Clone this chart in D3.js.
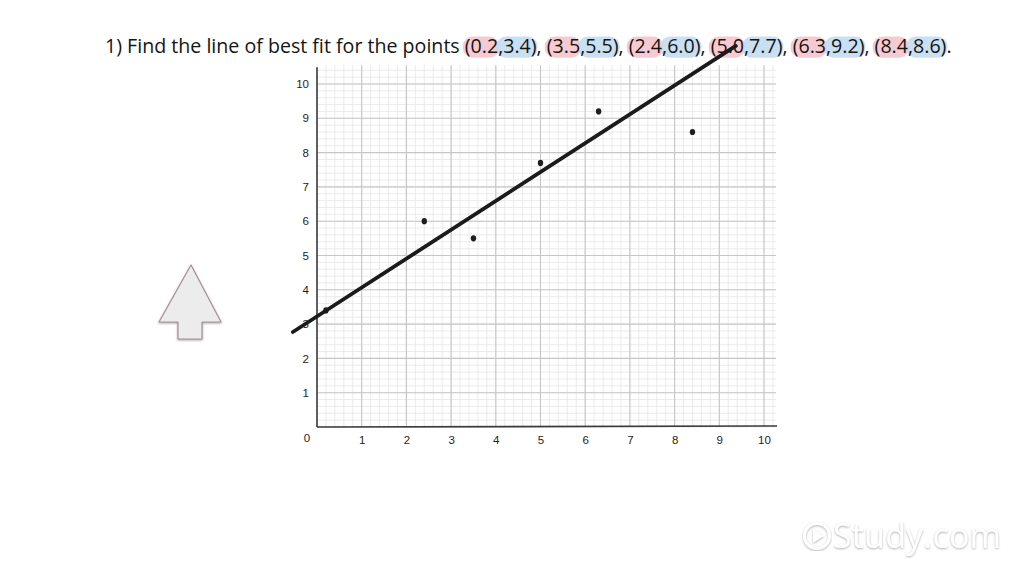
<!DOCTYPE html>
<html>
<head>
<meta charset="utf-8">
<script src="https://cdn.jsdelivr.net/npm/d3@7"></script>
<style>
  body { margin: 0; background: #fff; }
  svg { display: block; }
</style>
</head>
<body>
<svg id="chart" width="1024" height="576"></svg>
<script>
// points
const xVals = [0.2, 3.5, 2.4, 5.0, 6.3, 8.4];
const yVals = [3.4, 5.5, 6.0, 7.7, 9.2, 8.6];
const xLabels = ['0.2', '3.5', '2.4', '5.0', '6.3', '8.4'];
const yLabels = ['3.4', '5.5', '6.0', '7.7', '9.2', '8.6'];

// hand drawn fit line, its two ends
const fitX = [-0.54, 9.37];
const fitY = [2.77, 11.11];

const xTicks = [1, 2, 3, 4, 5, 6, 7, 8, 9, 10];
const yTicks = [1, 2, 3, 4, 5, 6, 7, 8, 9, 10];

const svg = d3.select('#chart');

// scales: grid origin at (317,427), unit ~44.7 px across, ~34.3 px up
const x = d3.scaleLinear().domain([0, 10]).range([317, 764]);
const y = d3.scaleLinear().domain([0, 10]).range([427, 84]);
const xMax = 10.27, yMax = 10.55;

// ---- graph paper ----
const grid = svg.append('g').attr('class', 'grid');
const minorX = d3.range(0, xMax, 0.2);
const minorY = d3.range(0, yMax, 0.2);

grid.selectAll('line.minor-v')
  .data(minorX)
  .enter().append('line')
  .attr('x1', d => x(d)).attr('x2', d => x(d))
  .attr('y1', y(0)).attr('y2', y(yMax))
  .attr('stroke', '#e6e6e6').attr('stroke-width', 0.8);

grid.selectAll('line.minor-h')
  .data(minorY)
  .enter().append('line')
  .attr('y1', d => y(d)).attr('y2', d => y(d))
  .attr('x1', x(0)).attr('x2', x(xMax))
  .attr('stroke', '#e6e6e6').attr('stroke-width', 0.8);

grid.selectAll('line.major-v')
  .data(xTicks)
  .enter().append('line')
  .attr('x1', d => x(d)).attr('x2', d => x(d))
  .attr('y1', y(0)).attr('y2', y(yMax))
  .attr('stroke', '#c6c6c6').attr('stroke-width', 1.1);

grid.selectAll('line.major-h')
  .data(yTicks)
  .enter().append('line')
  .attr('y1', d => y(d)).attr('y2', d => y(d))
  .attr('x1', x(0)).attr('x2', x(xMax))
  .attr('stroke', '#c6c6c6').attr('stroke-width', 1.1);

// ---- axes ----
const xAxis = d3.axisBottom(x).tickValues(xTicks).tickSize(0).tickPadding(9);
const yAxis = d3.axisLeft(y).tickValues(yTicks).tickSize(0).tickPadding(8);

const gx = svg.append('g').attr('transform', `translate(0,${y(0)})`).call(xAxis);
const gy = svg.append('g').attr('transform', `translate(${x(0)},0)`).call(yAxis);

[gx, gy].forEach(g => {
  g.select('.domain').remove();
  g.selectAll('text')
    .style('font-family', '"Liberation Sans", Arial, sans-serif')
    .style('font-size', '11.5px')
    .attr('fill', '#1e1e1e');
});

svg.append('line')
  .attr('x1', x(0)).attr('x2', x(xMax) + 1)
  .attr('y1', y(0)).attr('y2', y(0) - 1)
  .attr('stroke', '#3a3a3a').attr('stroke-width', 1.6);
svg.append('line')
  .attr('x1', x(0)).attr('x2', x(0))
  .attr('y1', y(0)).attr('y2', y(yMax) + 2)
  .attr('stroke', '#3a3a3a').attr('stroke-width', 1.6);

svg.append('text')
  .attr('x', x(0) - 10).attr('y', y(0) + 15)
  .attr('text-anchor', 'middle')
  .style('font-family', '"Liberation Sans", Arial, sans-serif')
  .style('font-size', '11.5px')
  .attr('fill', '#1e1e1e')
  .text('0');

// ---- points ----
svg.append('g')
  .selectAll('ellipse')
  .data(xVals.map((v, i) => ({ x: v, y: yVals[i] })))
  .enter().append('ellipse')
  .attr('cx', d => x(d.x))
  .attr('cy', d => y(d.y))
  .attr('rx', 2.7)
  .attr('ry', 3.1)
  .attr('fill', '#1e1e1e');

// ---- title with highlighted coordinates ----
const titleParts = [{ t: '1) Find the line of best fit for the points ' }];
xLabels.forEach((lx, i) => {
  titleParts.push({ t: '(' + lx, hl: '#f6c4cc' });
  titleParts.push({ t: ',' + yLabels[i] + ')', hl: '#c3dbf1' });
  titleParts.push({ t: i < xLabels.length - 1 ? ', ' : '.' });
});
const titleStr = titleParts.map(p => p.t).join('');

const hlLayer = svg.append('g');
const title = svg.append('text')
  .attr('x', 105).attr('y', 53)
  .style('font-family', '"Open Sans", sans-serif')
  .style('font-size', '18px')
  .attr('fill', '#151515')
  .text(titleStr);

// fit the sentence to the width seen in the picture
const targetW = 847;
const fs = 18 * targetW / title.node().getComputedTextLength();
title.style('font-size', fs + 'px');

let pos = 0;
titleParts.forEach(p => {
  if (p.hl) {
    const node = title.node();
    const start = node.getStartPositionOfChar(pos).x;
    const w = node.getSubStringLength(pos, p.t.length);
    hlLayer.append('rect')
      .attr('x', start - 2)
      .attr('y', 53 - fs * 0.84)
      .attr('width', w + 3)
      .attr('height', fs * 1.08)
      .attr('rx', fs * 0.5)
      .attr('fill', p.hl)
      .attr('opacity', 0.9);
  }
  pos += p.t.length;
});

// ---- fit line (drawn over everything) ----
svg.append('line')
  .attr('x1', x(fitX[0])).attr('y1', y(fitY[0]))
  .attr('x2', x(fitX[1])).attr('y2', y(fitY[1]))
  .attr('stroke', '#1b1b1b')
  .attr('stroke-width', 3.8)
  .attr('stroke-linecap', 'round');

// ---- arrow on the left ----
const defs = svg.append('defs');
defs.append('filter').attr('id', 'soft')
  .append('feDropShadow')
  .attr('dx', 0).attr('dy', 1).attr('stdDeviation', 1.2)
  .attr('flood-color', '#a08a90').attr('flood-opacity', 0.8);

svg.append('path')
  .attr('d', 'M191,265 L221,322 L202,322 L202,339 L178,339 L178,322 L159,322 Z')
  .attr('fill', '#ececec')
  .attr('stroke', '#a3939a')
  .attr('stroke-width', 1.2)
  .attr('stroke-linejoin', 'round')
  .attr('filter', 'url(#soft)');

// ---- watermark ----
const wm = svg.append('g');
defs.append('filter').attr('id', 'wmShadow')
  .append('feDropShadow')
  .attr('dx', 0).attr('dy', 1).attr('stdDeviation', 1)
  .attr('flood-color', '#a8a8a8').attr('flood-opacity', 0.9);

wm.append('circle')
  .attr('cx', 817).attr('cy', 536).attr('r', 12.5)
  .attr('fill', 'none').attr('stroke', '#fff').attr('stroke-width', 3.2)
  .attr('filter', 'url(#wmShadow)');
wm.append('path')
  .attr('d', 'M813,529 L824,536 L813,543 Z')
  .attr('fill', '#fff')
  .attr('filter', 'url(#wmShadow)');
wm.append('text')
  .attr('x', 833).attr('y', 548)
  .style('font-family', '"Open Sans", sans-serif')
  .style('font-size', '34px')
  .attr('fill', '#fff')
  .attr('textLength', 168)
  .attr('filter', 'url(#wmShadow)')
  .text('Study.com');
</script>
</body>
</html>
